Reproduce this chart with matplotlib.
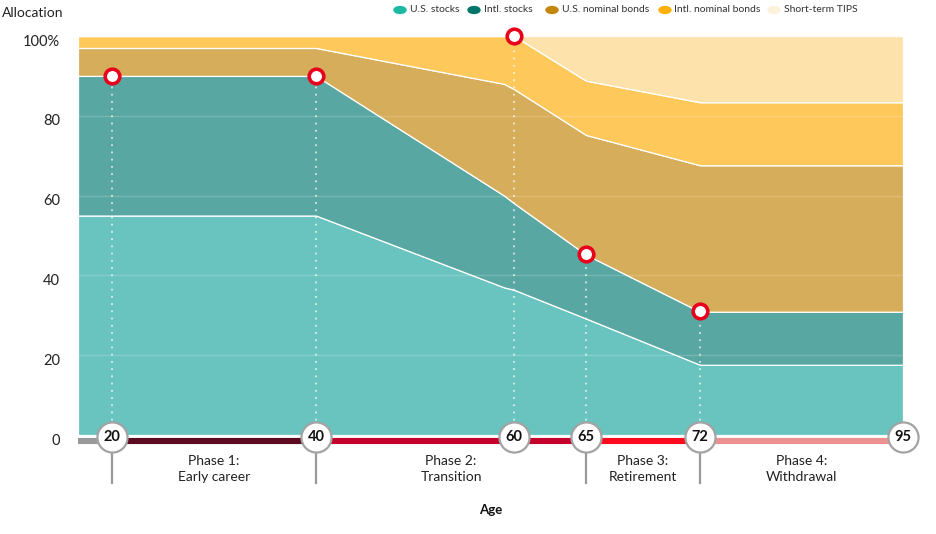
import numpy as np
import matplotlib
matplotlib.use("Agg")
import matplotlib.pyplot as plt
from matplotlib.transforms import ScaledTranslation

plt.rcParams['font.family'] = ['Lato', 'DejaVu Sans']

# glide path data (percent of portfolio)
ages = [17, 40, 59, 60, 65, 72, 95]
us_stocks = [55, 55, 37, 36.4, 29.2, 17.6, 17.6]
intl_stocks = [35, 35, 23, 21.7, 16, 13.3, 13.3]
us_bonds = [7, 7, 28, 28.6, 30, 36.7, 36.7]
intl_bonds = [3, 3, 12, 13.3, 13.6, 15.8, 15.8]
tips = [0, 0, 0, 0, 11.2, 16.6, 16.6]

series_names = ['U.S. stocks', 'Intl. stocks', 'U.S. nominal bonds',
                'Intl. nominal bonds', 'Short-term TIPS']
fill_colors = ['#69c3bf', '#59a7a2', '#d6ad5a', '#fec85b', '#fee2ac']
legend_colors = ['#1cb8a2', '#00756b', '#c3860b', '#ffb000', '#fdf3dc']

# milestone markers on the allocation curves
marker_ages = [20, 40, 60, 65, 72]
marker_vals = [90, 90, 100, 45.3, 31]

# age axis milestones and phases
tick_ages = [20, 40, 60, 65, 72, 95]
divider_ages = [20, 40, 65, 72]
band_edges = [17, 20, 40, 65, 72, 95]
band_colors = ['#9a9a9a', '#5b0a1f', '#c4002b', '#ff0a1e', '#ec9090']
phase_bounds = [(20, 40), (40, 65), (65, 72), (72, 95)]
phase_labels = ['Phase 1:\nEarly career', 'Phase 2:\nTransition',
                'Phase 3:\nRetirement', 'Phase 4:\nWithdrawal']

# piecewise age scale (the chart gives each phase its own width)
scale_ages = [17, 20, 40, 60, 65, 72, 95]
scale_pos = [78, 112, 316, 514, 586, 700, 903]


def fwd(a):
    return np.interp(a, scale_ages, scale_pos)


def inv(p):
    return np.interp(p, scale_pos, scale_ages)


W, H = 936, 534
fig = plt.figure(figsize=(W / 100, H / 100), dpi=100)
ax = fig.add_axes([78 / W, (H - 435) / H, 825 / W, 399 / H])
ax.set_xscale('function', functions=(fwd, inv))

ax.stackplot(ages, us_stocks, intl_stocks, us_bonds, intl_bonds, tips,
             colors=fill_colors, edgecolor='white', linewidth=0.9, zorder=1)

for v in [20, 40, 60, 80]:
    ax.axhline(v, color='white', alpha=0.18, lw=1, zorder=2)

ax.set_xlim(17, 95)
ax.set_ylim(0, 100)

# dotted drop lines and markers
ax.vlines(marker_ages, 0, marker_vals, colors='white', alpha=0.75,
          linestyles=(0, (1, 3)), lw=1.3, zorder=3)
ax.plot(marker_ages, marker_vals, 'o', ms=10.5, mfc='white', mec='#e8001c',
        mew=2.6, lw=0, zorder=6, clip_on=False)

# coloured age band
band_y = -1.4
for i, c in enumerate(band_colors):
    ax.plot(band_edges[i:i + 2], [band_y, band_y], color=c, lw=4.4,
            solid_capstyle='butt', zorder=4, clip_on=False)

# divider stems under milestones
for a in divider_ages:
    ax.plot([a, a], [-4, -12.1], color='#9a9a9a', lw=1.6, zorder=3,
            clip_on=False)

# age bubbles
ax.scatter(tick_ages, [-0.6] * len(tick_ages), s=470, c='white',
           edgecolors='#a3a3a3', linewidths=1.6, zorder=7, clip_on=False)
for a in tick_ages:
    ax.text(a, -0.6, str(a), ha='center', va='center', fontsize=10.5,
            fontweight='bold', color='#111111', zorder=8)

for (a, b), lab in zip(phase_bounds, phase_labels):
    mid = inv((fwd(a) + fwd(b)) / 2)
    ax.text(mid, -8.5, lab, ha='center', va='center', fontsize=10,
            color='#222222', linespacing=1.4)

# y axis
ax.set_yticks([0, 20, 40, 60, 80, 100])
ax.set_yticklabels(['0', '20', '40', '60', '80', '100%'])
ax.tick_params(axis='y', length=0, pad=13, labelsize=10.5, colors='#222222')
for lab in ax.get_yticklabels():
    lab.set_transform(lab.get_transform() +
                      ScaledTranslation(0, -3 / 72, fig.dpi_scale_trans))
ax.set_xticks([])
for s in ax.spines.values():
    s.set_visible(False)

fig.text(2 / W, 1 - 13 / H, 'Allocation', ha='left', va='center',
         fontsize=10, color='#222222')
fig.text(491 / W, 1 - 510 / H, 'Age', ha='center', va='center',
         fontsize=9.5, fontweight='bold', color='#111111')

# legend row
dot_x = [400, 474, 552, 665, 774]
for x, c, name in zip(dot_x, legend_colors, series_names):
    fig.patches.append(plt.Circle((x / W, 1 - 10 / H), 6 / W, color=c,
                                  transform=fig.transFigure,
                                  figure=fig))
    fig.text((x + 9.5) / W, 1 - 10 / H, name, ha='left', va='center',
             fontsize=7.5, color='#333333')

fig.savefig('out.png', dpi=100)
